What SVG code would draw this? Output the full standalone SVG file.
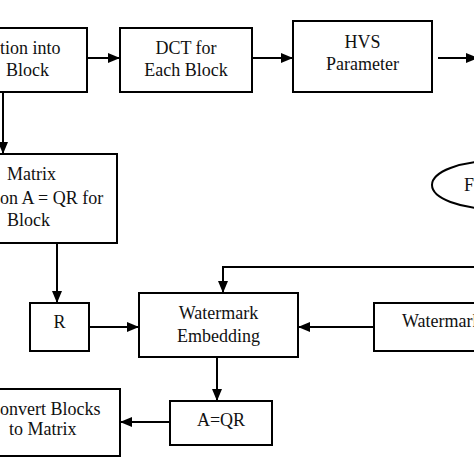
<svg xmlns="http://www.w3.org/2000/svg" width="474" height="474" viewBox="0 0 474 474">
<defs>
<marker id="ah" markerUnits="userSpaceOnUse" markerWidth="13" markerHeight="11" refX="12" refY="5" orient="auto">
<path d="M0,0 L12,5 L0,10 z" fill="#000"/>
</marker>
<style>
.box{fill:#fff;stroke:#000;stroke-width:2}
.t{font-family:"Liberation Serif","Times New Roman",serif;font-size:18px;fill:#111}
.c{text-anchor:middle}
.ln{fill:none;stroke:#000;stroke-width:2;marker-end:url(#ah)}
</style>
</defs>
<rect width="474" height="474" fill="#fff"/>
<g id="connectors">
<path class="ln" d="M87,58 H120"/>
<path class="ln" d="M252,58 H293"/>
<path class="ln" d="M438,58 H478"/>
<path class="ln" d="M3,92 V154"/>
<path class="ln" d="M57,243 V303"/>
<path class="ln" d="M89,327 H139"/>
<path class="ln" d="M480,267 H223 V293"/>
<path class="ln" d="M374,327 H298"/>
<path class="ln" d="M217,357 V401"/>
<path class="ln" d="M170,422 H120"/>
</g>
<g id="partition">
<rect class="box" x="-60" y="28" width="147" height="64"/>
<text class="t" x="0" y="54">tion into</text>
<text class="t" x="6" y="76">Block</text>
</g>
<g id="dct">
<rect class="box" x="120" y="28" width="132" height="64"/>
<text class="t c" x="186" y="54">DCT for</text>
<text class="t c" x="186" y="76">Each Block</text>
</g>
<g id="hvs">
<rect class="box" x="293" y="21" width="139" height="71"/>
<text class="t c" x="362.5" y="48">HVS</text>
<text class="t c" x="362.5" y="70">Parameter</text>
</g>
<g id="ellipse">
<ellipse cx="495" cy="185" rx="63" ry="24" fill="#fff" stroke="#000" stroke-width="2"/>
<text class="t" x="464" y="191">F</text>
</g>
<g id="matrix">
<rect class="box" x="-60" y="154" width="177" height="89"/>
<text class="t" x="7" y="180">Matrix</text>
<text class="t" x="0" y="204">on A = QR for</text>
<text class="t" x="7" y="226">Block</text>
</g>
<g id="r">
<rect class="box" x="30" y="303" width="59" height="48"/>
<text class="t c" x="59.5" y="328">R</text>
</g>
<g id="embedding">
<rect class="box" x="139" y="293" width="159" height="64"/>
<text class="t c" x="218.5" y="319">Watermark</text>
<text class="t c" x="218.5" y="342">Embedding</text>
</g>
<g id="watermark">
<rect class="box" x="374" y="303" width="170" height="48"/>
<text class="t" x="402" y="327">Watermark</text>
</g>
<g id="aqr">
<rect class="box" x="170" y="401" width="102" height="44"/>
<text class="t c" x="221" y="426">A=QR</text>
</g>
<g id="convert">
<rect class="box" x="-60" y="389" width="180" height="67"/>
<text class="t" x="0" y="415">onvert Blocks</text>
<text class="t" x="9" y="435">to Matrix</text>
</g>
</svg>
